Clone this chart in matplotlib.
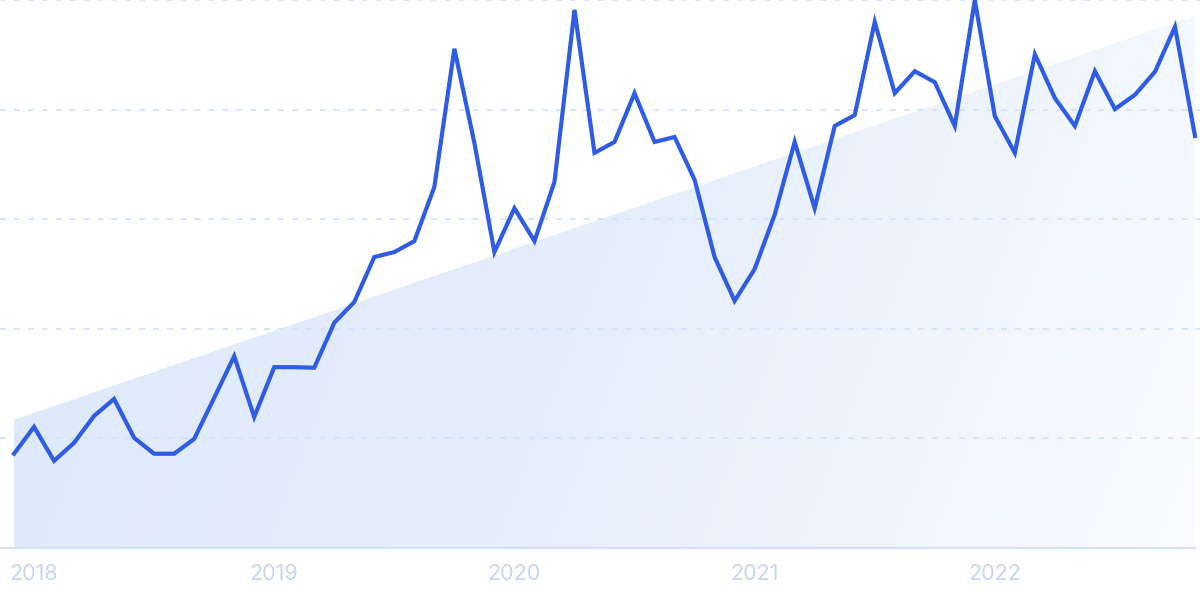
import numpy as np
import matplotlib
matplotlib.use('Agg')
import matplotlib.pyplot as plt
from matplotlib.colors import LinearSegmentedColormap

# monthly values, 60 points (index 0 = Dec 2017)
values = [17.2, 22.1, 15.9, 19.2, 24.1, 27.2, 20.1, 17.2, 17.2, 19.9,
          27.4, 35.0, 23.9, 33.0, 33.0, 32.9, 41.1, 44.9, 53.1, 54.0,
          56.0, 65.9, 91.1, 73.9, 54.0, 62.0, 56.0, 66.8, 98.2, 72.1,
          74.1, 83.0, 74.1, 75.0, 67.2, 53.1, 45.1, 50.9, 60.8, 74.1,
          62.0, 77.0, 79.0, 96.0, 83.0, 87.0, 85.0, 77.0, 100.0, 78.8,
          72.1, 90.1, 82.1, 77.0, 87.0, 80.1, 82.7, 86.9, 95.1, 75.2]
trend_ends = [23.4, 97.1]          # trend value at first / last point
year_labels = ['2018', '2019', '2020', '2021', '2022']
year_index = [1, 13, 25, 37, 49]
grid_levels = [20, 40, 60, 80, 100]

x = np.arange(len(values))
x_last = x[-1]

fig = plt.figure(figsize=(12, 6), dpi=100)
ax = fig.add_axes([0, 52 / 600., 1, 548 / 600.])
ax.set_xlim(-0.70, x_last + 0.25)
ax.set_ylim(0, 100)
ax.axis('off')

#--------------------------#
# gradient trend area
trend = np.interp(x, [0, x_last], trend_ends)
poly = ax.fill_between(x, 0, trend, color='none', lw=0)
cmap = LinearSegmentedColormap.from_list('fade', ['#dce8fa', '#e5eefc', '#fafcff'])
gx, gy = np.meshgrid(np.linspace(0, 1, 300), np.linspace(1, 0, 150))
grad = 0.85 * gx + 0.15 * (1 - gy)
img = ax.imshow(grad, cmap=cmap, aspect='auto', extent=[0, x_last, 0, 100],
                origin='upper', zorder=1, vmin=0, vmax=1)
img.set_clip_path(poly.get_paths()[0], transform=ax.transData)

#--------------------------#
# dashed grid + base line
for g in grid_levels:
    ln = ax.axhline(g, color='#d3e3fc', lw=1.3, zorder=2, clip_on=False)
    ln.set_dashes((3.3, 4.4))
ax.plot([-0.70, x_last], [0, 0], color='#d4e1f8', lw=1.6, zorder=2, clip_on=False)

# main line
ax.plot(x, values, color='#2e5ce6', lw=3.0, zorder=3, solid_joinstyle='miter')

# year labels
for lab, i in zip(year_labels, year_index):
    ax.text(i, -4.8, lab, ha='center', va='center', fontsize=15.5,
            family='Inter', color='#c7d5f3', clip_on=False)

plt.savefig('out.png', dpi=100)
